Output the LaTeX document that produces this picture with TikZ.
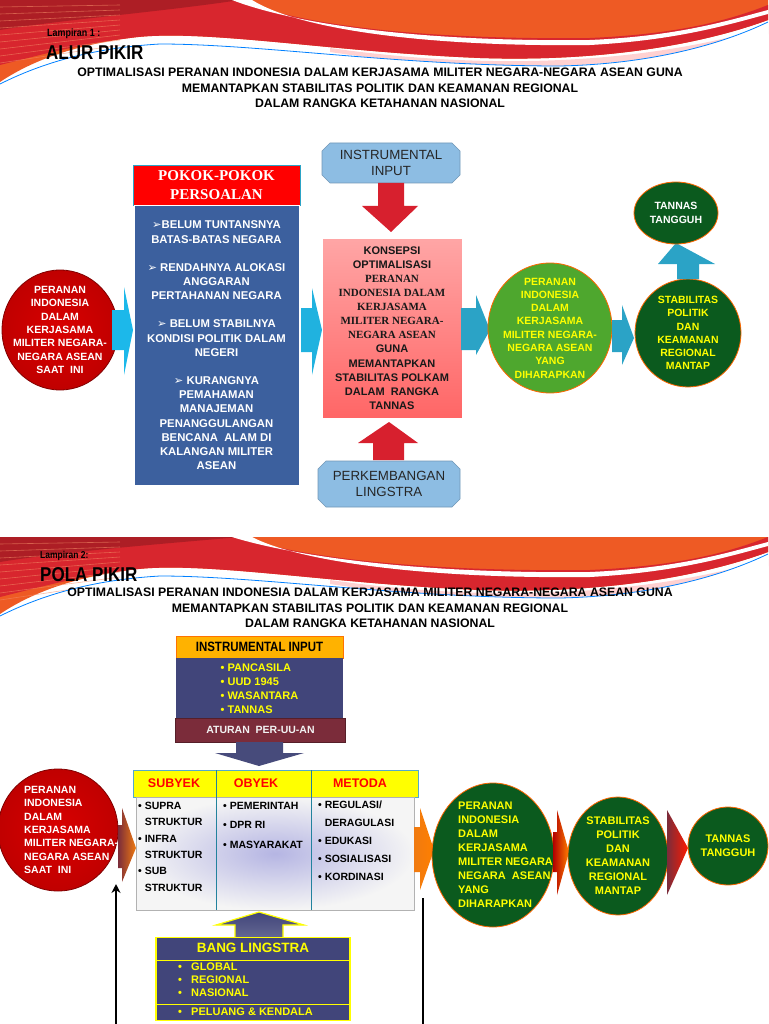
\documentclass[tikz,border=0pt]{standalone}
\usepackage{fontspec}
\setmainfont{Liberation Sans}
\newfontfamily\serf{Liberation Serif}
\newfontfamily\djv{DejaVu Sans}
\newfontfamily\narrow{Liberation Sans}[FakeStretch=0.85]
\usetikzlibrary{shapes.geometric,shapes.misc,arrows.meta}
\definecolor{cred}{HTML}{C00000}
\definecolor{bbody}{HTML}{3C609E}
\definecolor{lblue}{HTML}{8DBDE3}
\definecolor{rarr}{HTML}{D7202E}
\definecolor{lgreen}{HTML}{4EA72E}
\definecolor{dgreen}{HTML}{0B5A1E}
\definecolor{teal}{HTML}{2BA3C6}
\definecolor{cyanA}{HTML}{1CB8EA}
\definecolor{navy}{HTML}{41457A}
\definecolor{maroon}{HTML}{7B2C3A}
\definecolor{ora}{HTML}{F07A10}
\definecolor{yel}{HTML}{FFFF00}
\definecolor{bred}{HTML}{D8262E}
\definecolor{bora}{HTML}{EE5A24}
\newcommand{\fs}[2]{\fontsize{#1}{#2}\selectfont}
\newcommand{\arr}{{\djv\char"27A2}}
\newcommand{\bul}{\textbullet\ }
\begin{document}
\begin{tikzpicture}[x=1pt,y=-1pt,
  txt/.style={align=center, inner sep=0},
  circ/.style={ellipse, draw=orange!80!red, line width=0.8pt, inner sep=0},
  ctext/.style={align=center, inner sep=0, font=\bfseries\fs{10.5}{13.3}},
  lbox/.style={chamfered rectangle, chamfered rectangle xsep=4pt, chamfered rectangle ysep=4pt, fill=lblue, draw=lblue!80!black, line width=0.6pt, align=center, font=\fs{13.3}{16}, text=black!85, inner sep=0},
]
\useasboundingbox (0,0) rectangle (768,1024);
% ---- banners
\foreach \dy/\tp in {0/0,532/5}{
\begin{scope}[yshift=-\dy pt]
\fill[bora] (0,\tp) -- (768,\tp) -- (768,20) .. controls (700,45) and (600,62) .. (480,58) .. controls (330,52) and (200,28) .. (130,38) .. controls (70,46) and (30,62) .. (0,82) -- cycle;
\fill[bred] (0,\tp) -- (240,\tp) .. controls (300,26) and (430,40) .. (590,38) .. controls (680,34) and (730,20) .. (768,5) -- (768,20) .. controls (700,45) and (600,62) .. (480,58) .. controls (330,52) and (200,28) .. (130,38) .. controls (80,44) and (40,55) .. (0,65) -- cycle;
\fill[bred!80!black] (0,\tp) -- (240,\tp) .. controls (160,12) and (60,20) .. (0,30) -- cycle;
\foreach \k in {1,...,9}{\draw[bora!70!white, line width=0.6pt, opacity=0.6] (0,\tp+\k*7) -- (120,\tp+\k*5);}
\fill[white] (232,\tp) .. controls (300,26) and (430,42) .. (590,40) .. controls (680,36) and (730,20) .. (768,10) -- (768,14) .. controls (730,24) and (680,40) .. (590,45) .. controls (430,47) and (300,30) .. (252,\tp) -- cycle;
\fill[red!30!white, opacity=0.6] (330,48) .. controls (500,72) and (650,62) .. (768,27) -- (768,34) .. controls (650,68) and (500,78) .. (330,52) -- cycle;
\fill[white] (0,84) .. controls (40,64) and (90,48) .. (160,44) .. controls (260,44) and (400,66) .. (560,66) .. controls (650,64) and (720,45) .. (768,22) -- (768,130) -- (0,130) -- cycle;
\draw[blue!50!cyan, line width=0.8pt] (0,84) .. controls (40,64) and (90,48) .. (160,44) .. controls (260,44) and (400,66) .. (560,66) .. controls (650,64) and (720,45) .. (768,22);
\end{scope}}
% ---- titles top
\node[anchor=west, font=\narrow\bfseries\fs{10.5}{12}, inner sep=0] (l1) at (47,34) {Lampiran 1 :};
\node[anchor=west, font=\narrow\bfseries\fs{20}{22}, inner sep=0] (t1) at (46,53) {ALUR PIKIR};
\node[font=\bfseries\fs{12.3}{15.5}, align=center] (s1) at (380,88) {OPTIMALISASI PERANAN INDONESIA DALAM KERJASAMA MILITER NEGARA-NEGARA ASEAN GUNA\\MEMANTAPKAN STABILITAS POLITIK DAN KEAMANAN REGIONAL\\DALAM RANGKA KETAHANAN NASIONAL};
% left red circle
\node[circ, draw=red!50!black, inner color=red!85!black, outer color=cred, minimum width=116, minimum height=120] (c1) at (60,330) {};
\node[ctext, text=white] (c1t) at (c1) {PERANAN\\INDONESIA\\DALAM\\KERJASAMA\\MILITER NEGARA-\\NEGARA ASEAN\\SAAT\ \ INI};
% blue box
\node[fill=red, draw=teal, minimum width=167, minimum height=40, font=\serf\bfseries\fs{15}{19}, text=white, align=center, inner sep=0] (ph) at (216.5,185) {POKOK-POKOK\\PERSOALAN};
\node[fill=bbody, draw=white, line width=1pt, minimum width=165, minimum height=280, anchor=north, text=white, txt, font=\bfseries\fs{11.3}{14.2}] (pb) at (216.5,205) {\arr BELUM TUNTANSNYA\\BATAS-BATAS NEGARA\\[14pt]\arr\ RENDAHNYA ALOKASI\\ANGGARAN\\PERTAHANAN NEGARA\\[14pt]\arr\ BELUM STABILNYA\\KONDISI POLITIK DALAM\\NEGERI\\[14pt]\arr\ KURANGNYA\\PEMAHAMAN\\MANAJEMAN\\PENANGGULANGAN\\BENCANA\ \ ALAM DI\\KALANGAN MILITER\\ASEAN};
% arrows top
\fill[cyanA] (112,310) -- (124,310) -- (124,287) -- (133,330) -- (124,375) -- (124,350) -- (112,350) -- cycle;
\fill[cyanA!70!teal] (301,308) -- (312,308) -- (312,288) -- (322,330) -- (312,375) -- (312,352) -- (301,352) -- cycle;
% instrumental input
\node[lbox, minimum width=138, minimum height=40] (ii) at (391,163) {INSTRUMENTAL\\INPUT};
\node[lbox, minimum width=142, minimum height=46] (pl) at (389,484) {PERKEMBANGAN\\LINGSTRA};
% pink box
\node[draw=white, line width=1pt, top color=red!35!white, bottom color=red!60!white, minimum width=140, minimum height=180, align=center, inner sep=0, font=\bfseries\fs{11}{14.1}, text=black!90] (pk) at (392,328) {KONSEPSI\\OPTIMALISASI\\{\serf PERANAN}\\{\serf INDONESIA DALAM}\\{\serf KERJASAMA}\\{\serf MILITER NEGARA-}\\{\serf NEGARA ASEAN}\\GUNA\\MEMANTAPKAN\\STABILITAS POLKAM\\DALAM\ \ RANGKA\\TANNAS};
\fill[rarr] (378,183) -- (404,183) -- (404,206) -- (418,206) -- (391,232) -- (362,206) -- (378,206) -- cycle;
\fill[rarr] (373,460) -- (404,460) -- (404,443) -- (418,443) -- (389,422) -- (358,443) -- (373,443) -- cycle;
\fill[teal] (461,308) -- (476,308) -- (476,295) -- (490,330) -- (476,355) -- (476,350) -- (461,350) -- cycle;
% green circle
\node[circ, fill=lgreen, minimum width=124, minimum height=130] (g1) at (550,328) {};
\node[ctext, text=yel] (g1t) at (g1) {PERANAN\\INDONESIA\\DALAM\\KERJASAMA\\MILITER NEGARA-\\NEGARA ASEAN\\YANG\\DIHARAPKAN};
\fill[teal] (612,320) -- (622,320) -- (622,305) -- (634,338) -- (622,365) -- (622,352) -- (612,352) -- cycle;
\node[circ, fill=dgreen, minimum width=106, minimum height=108] (st1) at (688,333) {};
\node[ctext, text=yel] (st1t) at (st1) {STABILITAS\\POLITIK\\DAN\\KEAMANAN\\REGIONAL\\MANTAP};
\fill[teal] (677,279) -- (699,279) -- (699,264) -- (715,264) -- (676,243) -- (658,264) -- (677,264) -- cycle;
\node[circ, fill=dgreen, minimum width=84, minimum height=62] (tt1) at (676,213) {};
\node[ctext, text=white] (tt1t) at (tt1) {TANNAS\\TANGGUH};
% ================= bottom
\node[anchor=west, font=\narrow\bfseries\fs{10}{12}, inner sep=0] (l2) at (40,556) {Lampiran 2:};
\node[anchor=west, font=\narrow\bfseries\fs{20}{22}, inner sep=0] (t2) at (40,575) {POLA PIKIR};
\node[font=\bfseries\fs{12.3}{15.5}, align=center] (s2) at (370,608) {OPTIMALISASI PERANAN INDONESIA DALAM KERJASAMA MILITER NEGARA-NEGARA ASEAN GUNA\\MEMANTAPKAN STABILITAS POLITIK DAN KEAMANAN REGIONAL\\DALAM RANGKA KETAHANAN NASIONAL};
% instrumental input block
\node[fill=orange!60!yellow, draw=orange!90!red, line width=1pt, minimum width=167, minimum height=22, font=\narrow\bfseries\fs{13.5}{14}] (ih) at (259.5,647) {INSTRUMENTAL INPUT};
\node[fill=navy, minimum width=167, minimum height=62, anchor=north, text=yel, align=left, font=\bfseries\fs{11}{14}] (ib) at (259.5,658) {\bul PANCASILA\\\bul UUD 1945\\\bul WASANTARA\\\bul TANNAS};
\node[fill=maroon, draw=maroon!70!black, minimum width=170, minimum height=24, text=white!90!gray, font=\bfseries\fs{10.5}{12}] (au) at (260.5,730) {ATURAN\ \ PER-UU-AN};
\fill[navy!90!gray] (236,742) -- (283,742) -- (283,753) -- (304,753) -- (259,766) -- (215,753) -- (236,753) -- cycle;
% table
\node[fill=yel, draw=cyan!60!gray, minimum width=285, minimum height=27, inner sep=0] (th) at (275.5,783.5) {};
\shade[inner color=gray!55!blue!40, outer color=gray!8, draw=gray!60] (136,797) rectangle (414,910);
\node[inner sep=0, minimum width=278, minimum height=113] (tb) at (275,853.5) {};
\draw[teal!80!black, line width=0.6pt] (216,770) -- (216,910) (311,770) -- (311,910);
\node[text=red, font=\bfseries\fs{12.5}{14}] (h1) at (174,783) {SUBYEK};
\node[text=red, font=\bfseries\fs{12.5}{14}] (h2) at (256,783) {OBYEK};
\node[text=red, font=\bfseries\fs{12.5}{14}] (h3) at (360,783) {METODA};
\node[anchor=north west, align=left, font=\bfseries\fs{10.5}{16.3}, inner sep=0] (b1) at (138,802) {\bul SUPRA\\\phantom{\bul}STRUKTUR\\\bul INFRA\\\phantom{\bul}STRUKTUR\\\bul SUB\\\phantom{\bul}STRUKTUR};
\node[anchor=north west, align=left, font=\bfseries\fs{10.5}{19.5}, inner sep=0] (b2) at (223,802) {\bul PEMERINTAH\\\bul DPR RI\\\bul MASYARAKAT};
\node[anchor=north west, align=left, font=\bfseries\fs{10.5}{18}, inner sep=0] (b3) at (318,801) {\bul REGULASI/\\\phantom{\bul}DERAGULASI\\\bul EDUKASI\\\bul SOSIALISASI\\\bul KORDINASI};
% left circle bottom
\node[circ, draw=red!50!black, inner color=red!85!black, outer color=cred, minimum width=120, minimum height=122] (c2) at (58,830) {};
\node[ctext, text=white, align=left, anchor=west] (c2t) at (24,830) {PERANAN\\INDONESIA\\DALAM\\KERJASAMA\\MILITER NEGARA-\\NEGARA ASEAN\\SAAT\ \ INI};
\shade[left color=maroon, right color=ora] (118,825) -- (122,825) -- (122,808) -- (136,848) -- (122,882) -- (122,868) -- (118,868) -- cycle;
\shade[left color=ora, right color=orange] (414,827) -- (420,827) -- (420,808) -- (434,850) -- (420,890) -- (420,872) -- (414,872) -- cycle;
% bang lingstra
\shade[top color=navy, bottom color=navy!80, draw=yel, line width=1.2pt] (235,940) -- (235,925) -- (216,925) -- (259,912) -- (304,925) -- (283,925) -- (283,940) -- cycle;
\node[fill=navy, draw=yel, line width=1.2pt, minimum width=194, minimum height=83, anchor=north, inner sep=0] (bl) at (253,937) {};
\draw[yel, line width=1pt] (156,960) -- (350,960) (156,1004) -- (350,1004);
\node[text=yel, font=\bfseries\fs{13.5}{14}] (blh) at (253,948) {BANG LINGSTRA};
\node[anchor=north west, text=yel, align=left, font=\bfseries\fs{11}{12.8}, inner sep=0] (blb) at (178,963) {\bul\ \ GLOBAL\\\bul\ \ REGIONAL\\\bul\ \ NASIONAL};
\node[anchor=west, text=yel, font=\bfseries\fs{11}{12}, inner sep=0] (blp) at (178,1012) {\bul\ \ PELUANG \& KENDALA};
% black lines
\coordinate (lb) at (116,1024);
\coordinate (rb) at (423,1024);
\coordinate (rt) at (423,898);
\coordinate (lt) at (116,884);
\draw[line width=2pt, -{Stealth[length=9pt,width=9pt]}] (lb) -- (lt);
\draw[line width=2pt] (rt) -- (rb);
% right chain bottom
\node[circ, fill=dgreen, minimum width=122, minimum height=144] (g2) at (493,855) {};
\node[ctext, text=yel, align=left, anchor=west, font=\bfseries\fs{11}{14}] (g2t) at (458,855) {PERANAN\\INDONESIA\\DALAM\\KERJASAMA\\MILITER NEGARA-\\NEGARA\ \ ASEAN\\YANG\\DIHARAPKAN};
\shade[left color=red!70!black, right color=orange] (553,832) -- (557,832) -- (557,810) -- (569,852) -- (557,895) -- (557,872) -- (553,872) -- cycle;
\node[circ, fill=dgreen, minimum width=100, minimum height=118] (st2) at (618,856) {};
\node[ctext, text=yel, font=\bfseries\fs{11}{14}] (st2t) at (st2) {STABILITAS\\POLITIK\\DAN\\KEAMANAN\\REGIONAL\\MANTAP};
\shade[left color=maroon, right color=red!80!orange] (667,810) -- (688,848) -- (667,895) -- cycle;
\node[circ, fill=dgreen, minimum width=80, minimum height=78] (tt2) at (728,846) {};
\node[ctext, text=yel, font=\bfseries\fs{11}{14}] (tt2t) at (tt2) {TANNAS\\TANGGUH};
\end{tikzpicture}
\end{document}
